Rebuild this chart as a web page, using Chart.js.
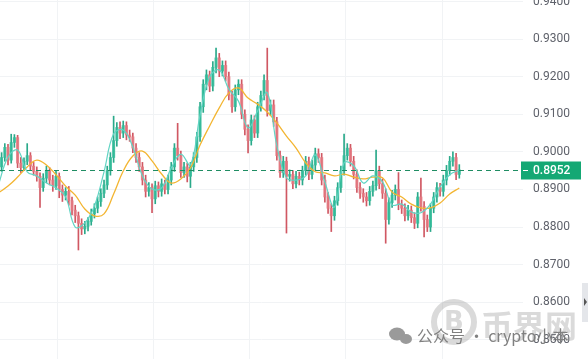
<!DOCTYPE html>
<html>
<head>
<meta charset="utf-8">
<script src="https://cdn.jsdelivr.net/npm/chart.js@4.4.1/dist/chart.umd.min.js"></script>
<style>
  html, body { margin: 0; padding: 0; background: #fff; }
  #wrap { position: relative; width: 588px; height: 359px; }
</style>
</head>
<body>
<div id="wrap"><canvas id="chart"></canvas></div>
<script>
// candles, one entry per bar
const opens = [
  0.8960, 0.8985, 0.9012, 0.8978, 0.9025, 0.9038, 0.8970, 0.8958, 0.8975, 0.8990,
  0.8962, 0.8948, 0.8935, 0.8905, 0.8930, 0.8950, 0.8925, 0.8910, 0.8935, 0.8900,
  0.8885, 0.8895, 0.8870, 0.8845, 0.8830, 0.8810, 0.8795, 0.8802, 0.8815, 0.8835,
  0.8850, 0.8868, 0.8890, 0.8912, 0.8950, 0.8985, 0.9030, 0.9065, 0.9050, 0.9070,
  0.9045, 0.9040, 0.9010, 0.8985, 0.8960, 0.8925, 0.8895, 0.8905, 0.8875, 0.8910,
  0.8895, 0.8915, 0.8900, 0.8925, 0.8960, 0.9010, 0.8990, 0.8945, 0.8960, 0.8935,
  0.8960, 0.8985, 0.9040, 0.9120, 0.9180, 0.9205, 0.9175, 0.9225, 0.9250, 0.9215,
  0.9230, 0.9200, 0.9150, 0.9120, 0.9165, 0.9180, 0.9100, 0.9060, 0.9030, 0.9085,
  0.9050, 0.9120, 0.9150, 0.9190, 0.9110, 0.9125, 0.9080, 0.8990, 0.8945, 0.8975,
  0.8935, 0.8940, 0.8915, 0.8935, 0.8925, 0.8950, 0.8975, 0.8940, 0.8965, 0.8995,
  0.8985, 0.8925, 0.8880, 0.8850, 0.8830, 0.8870, 0.8905, 0.8950, 0.8990, 0.9010,
  0.8975, 0.8940, 0.8905, 0.8890, 0.8880, 0.8870, 0.8895, 0.8910, 0.8950, 0.8915,
  0.8890, 0.8820, 0.8865, 0.8885, 0.8900, 0.8860, 0.8850, 0.8830, 0.8845, 0.8825,
  0.8810, 0.8880, 0.8855, 0.8820, 0.8800, 0.8850, 0.8880, 0.8905, 0.8895, 0.8925,
  0.8950, 0.8975, 0.8985, 0.8940
];
const highs = [
  0.8998, 0.9022, 0.9020, 0.9047, 0.9046, 0.9044, 0.8985, 0.8984, 0.9022, 0.8998,
  0.8972, 0.8960, 0.8944, 0.8942, 0.8962, 0.8958, 0.8938, 0.8948, 0.8944, 0.8912,
  0.8905, 0.8908, 0.8880, 0.8858, 0.8840, 0.8822, 0.8815, 0.8825, 0.8848, 0.8862,
  0.8880, 0.8902, 0.8925, 0.8962, 0.8998, 0.9095, 0.9078, 0.9080, 0.9082, 0.9080,
  0.9058, 0.9050, 0.9022, 0.8998, 0.8972, 0.8938, 0.8918, 0.8915, 0.8922, 0.8920,
  0.8928, 0.8925, 0.8938, 0.8972, 0.9022, 0.9076, 0.9002, 0.8972, 0.8970, 0.8972,
  0.8998, 0.9052, 0.9132, 0.9192, 0.9218, 0.9215, 0.9240, 0.9276, 0.9262, 0.9242,
  0.9242, 0.9212, 0.9162, 0.9178, 0.9192, 0.9192, 0.9112, 0.9072, 0.9098, 0.9096,
  0.9132, 0.9162, 0.9205, 0.9276, 0.9138, 0.9138, 0.9092, 0.9002, 0.8988, 0.8986,
  0.8952, 0.8950, 0.8948, 0.8946, 0.8962, 0.8988, 0.8986, 0.8978, 0.9010, 0.9008,
  0.8996, 0.8938, 0.8892, 0.8862, 0.8882, 0.8918, 0.8962, 0.9047, 0.9022, 0.9020,
  0.8988, 0.8952, 0.8918, 0.8902, 0.8892, 0.8908, 0.8922, 0.9005, 0.8962, 0.8928,
  0.8902, 0.8878, 0.8898, 0.8912, 0.8945, 0.8872, 0.8862, 0.8858, 0.8856, 0.8838,
  0.8892, 0.8930, 0.8868, 0.8832, 0.8862, 0.8892, 0.8918, 0.8916, 0.8938, 0.8964,
  0.8988, 0.9000, 0.8996, 0.8966
];
const lows = [
  0.8948, 0.8975, 0.8965, 0.8970, 0.9012, 0.8958, 0.8945, 0.8950, 0.8966, 0.8950,
  0.8938, 0.8922, 0.8852, 0.8895, 0.8918, 0.8912, 0.8895, 0.8900, 0.8878, 0.8868,
  0.8872, 0.8858, 0.8832, 0.8812, 0.8739, 0.8780, 0.8782, 0.8790, 0.8805, 0.8824,
  0.8838, 0.8855, 0.8878, 0.8900, 0.8938, 0.8972, 0.9015, 0.9035, 0.9038, 0.9032,
  0.9028, 0.8998, 0.8972, 0.8948, 0.8912, 0.8880, 0.8882, 0.8838, 0.8862, 0.8880,
  0.8882, 0.8888, 0.8888, 0.8912, 0.8948, 0.8978, 0.8932, 0.8932, 0.8920, 0.8905,
  0.8948, 0.8972, 0.9028, 0.9105, 0.9165, 0.9160, 0.9162, 0.9210, 0.9200, 0.9202,
  0.9188, 0.9138, 0.9105, 0.9108, 0.9152, 0.9088, 0.9045, 0.8997, 0.9018, 0.9038,
  0.9038, 0.9108, 0.9138, 0.9095, 0.9098, 0.9068, 0.8978, 0.8932, 0.8932, 0.8784,
  0.8922, 0.8902, 0.8904, 0.8912, 0.8912, 0.8938, 0.8926, 0.8928, 0.8952, 0.8972,
  0.8912, 0.8866, 0.8836, 0.8788, 0.8818, 0.8858, 0.8892, 0.8938, 0.8978, 0.8962,
  0.8928, 0.8892, 0.8876, 0.8866, 0.8856, 0.8858, 0.8882, 0.8898, 0.8902, 0.8876,
  0.8757, 0.8808, 0.8852, 0.8872, 0.8846, 0.8836, 0.8816, 0.8818, 0.8812, 0.8796,
  0.8798, 0.8842, 0.8774, 0.8788, 0.8788, 0.8838, 0.8866, 0.8882, 0.8882, 0.8912,
  0.8938, 0.8962, 0.8926, 0.8930
];
const closes = [
  0.8985, 0.9012, 0.8978, 0.9025, 0.9038, 0.8970, 0.8958, 0.8975, 0.8990, 0.8962,
  0.8948, 0.8935, 0.8905, 0.8930, 0.8950, 0.8925, 0.8910, 0.8935, 0.8900, 0.8885,
  0.8895, 0.8870, 0.8845, 0.8830, 0.8810, 0.8795, 0.8802, 0.8815, 0.8835, 0.8850,
  0.8868, 0.8890, 0.8912, 0.8950, 0.8985, 0.9030, 0.9065, 0.9050, 0.9070, 0.9045,
  0.9040, 0.9010, 0.8985, 0.8960, 0.8925, 0.8895, 0.8905, 0.8875, 0.8910, 0.8895,
  0.8915, 0.8900, 0.8925, 0.8960, 0.9010, 0.8990, 0.8945, 0.8960, 0.8935, 0.8960,
  0.8985, 0.9040, 0.9120, 0.9180, 0.9205, 0.9175, 0.9225, 0.9250, 0.9215, 0.9230,
  0.9200, 0.9150, 0.9120, 0.9165, 0.9180, 0.9100, 0.9060, 0.9030, 0.9085, 0.9050,
  0.9120, 0.9150, 0.9190, 0.9110, 0.9125, 0.9080, 0.8990, 0.8945, 0.8975, 0.8935,
  0.8940, 0.8915, 0.8935, 0.8925, 0.8950, 0.8975, 0.8940, 0.8965, 0.8995, 0.8985,
  0.8925, 0.8880, 0.8850, 0.8830, 0.8870, 0.8905, 0.8950, 0.8990, 0.9010, 0.8975,
  0.8940, 0.8905, 0.8890, 0.8880, 0.8870, 0.8895, 0.8910, 0.8950, 0.8915, 0.8890,
  0.8820, 0.8865, 0.8885, 0.8900, 0.8860, 0.8850, 0.8830, 0.8845, 0.8825, 0.8810,
  0.8880, 0.8855, 0.8820, 0.8800, 0.8850, 0.8880, 0.8905, 0.8895, 0.8925, 0.8950,
  0.8975, 0.8985, 0.8940, 0.8952
];

// the two moving averages, read every 3rd candle starting one slot before the first
const fastMa = [
  0.8912, 0.8986, 0.9005, 0.8947, 0.8936, 0.8917, 0.8904, 0.8880, 0.8800, 0.8811,
  0.8856, 0.8947, 0.9048, 0.9058, 0.9013, 0.8936, 0.8901, 0.8904, 0.8957, 0.8994,
  0.8965, 0.9098, 0.9199, 0.9218, 0.9167, 0.9135, 0.9064, 0.9109, 0.9157, 0.9016,
  0.8931, 0.8925, 0.8936, 0.8992, 0.8920, 0.8853, 0.8971, 0.8963, 0.8917, 0.8936,
  0.8920, 0.8859, 0.8861, 0.8840, 0.8838, 0.8861, 0.8907, 0.8939, 0.8952
];
const slowMa = [
  0.8891, 0.8909, 0.8933, 0.8960, 0.8978, 0.8965, 0.8939, 0.8909, 0.8885, 0.8848,
  0.8830, 0.8835, 0.8888, 0.8949, 0.8989, 0.9002, 0.8976, 0.8941, 0.8917, 0.8928,
  0.8957, 0.9018, 0.9069, 0.9117, 0.9157, 0.9170, 0.9143, 0.9127, 0.9106, 0.9077,
  0.9042, 0.9010, 0.8971, 0.8947, 0.8944, 0.8936, 0.8941, 0.8933, 0.8928, 0.8933,
  0.8931, 0.8893, 0.8880, 0.8861, 0.8851, 0.8851, 0.8864, 0.8888, 0.8904
];
const maStep = 3;
const maStart = -1;

const priceTicks = [0.85, 0.86, 0.87, 0.88, 0.89, 0.90, 0.91, 0.92, 0.93, 0.94];
const lastPrice = 0.8952;

const UP = 'rgba(52,188,154,0.85)';
const DOWN = 'rgba(228,120,128,0.85)';
const UP_WICK = '#2aa98a';
const DOWN_WICK = '#d05863';

const isUp = opens.map((o, i) => closes[i] >= o);
const wickData = highs.map((h, i) => ({ x: i, y: [lows[i], h] }));
const bodyData = opens.map((o, i) => ({ x: i, y: [o, closes[i]] }));
const maPoints = arr => arr.map((v, k) => ({ x: maStart + k * maStep, y: v }));

// dashed last-price line, the green price tag and the page decorations
const overlay = {
  id: 'overlay',
  afterDatasetsDraw(chart) {
    const { ctx, chartArea, scales } = chart;
    const py = Math.round(scales.y.getPixelForValue(lastPrice)) + 0.5;
    ctx.save();
    ctx.strokeStyle = '#1f8d63';
    ctx.lineWidth = 1;
    ctx.setLineDash([5, 4]);
    ctx.beginPath();
    ctx.moveTo(chartArea.left, py);
    ctx.lineTo(chartArea.right, py);
    ctx.stroke();
    ctx.setLineDash([]);

    ctx.fillStyle = '#14a874';
    ctx.fillRect(chartArea.right - 2, py - 9, 60, 18);
    ctx.strokeStyle = '#ffffff';
    ctx.beginPath();
    ctx.moveTo(chartArea.right, py);
    ctx.lineTo(chartArea.right + 5, py);
    ctx.stroke();
    ctx.fillStyle = '#ffffff';
    ctx.font = '500 12px Roboto';
    ctx.textBaseline = 'middle';
    ctx.fillText(lastPrice.toFixed(4), chartArea.right + 10, py + 0.5);
    ctx.restore();
  },
  afterDraw(chart) {
    const { ctx } = chart;
    ctx.save();
    // scroll handle on the right edge
    ctx.fillStyle = '#e4e6ea';
    ctx.fillRect(582, 283, 6, 39);
    ctx.fillStyle = '#555';
    ctx.beginPath();
    ctx.moveTo(584, 298);
    ctx.lineTo(587, 302);
    ctx.lineTo(584, 306);
    ctx.closePath();
    ctx.fill();

    // watermark
    ctx.strokeStyle = 'rgba(150,150,150,0.35)';
    ctx.lineWidth = 6;
    ctx.beginPath();
    ctx.arc(454, 322, 20, 0, Math.PI * 2);
    ctx.stroke();
    ctx.fillStyle = 'rgba(150,150,150,0.35)';
    ctx.font = 'bold 26px "DejaVu Sans"';
    ctx.textAlign = 'center';
    ctx.textBaseline = 'middle';
    ctx.fillText('B', 454, 323);
    ctx.textAlign = 'left';
    ctx.textBaseline = 'alphabetic';
    ctx.font = 'bold 32px "Noto Sans CJK SC"';
    ctx.fillText('币界网', 481, 338);

    ctx.fillStyle = '#9a9a9a';
    ctx.beginPath();
    ctx.ellipse(397, 334, 8, 6.5, 0, 0, Math.PI * 2);
    ctx.fill();
    ctx.beginPath();
    ctx.ellipse(406, 339, 6, 5, 0, 0, Math.PI * 2);
    ctx.fill();
    ctx.fillStyle = '#808080';
    ctx.font = '16px "Noto Sans CJK SC"';
    ctx.fillText('公众号 · crypto小本', 417, 342);
    ctx.restore();
  }
};

new Chart(document.getElementById('chart'), {
  type: 'bar',
  data: {
    datasets: [
      {
        type: 'line',
        data: maPoints(fastMa),
        borderColor: '#62d4c4',
        borderWidth: 1.2,
        pointRadius: 0,
        tension: 0.4,
        order: 0,
      },
      {
        type: 'line',
        data: maPoints(slowMa),
        borderColor: '#f3b531',
        borderWidth: 1.3,
        pointRadius: 0,
        tension: 0.4,
        order: 0,
      },
      {
        data: bodyData,
        backgroundColor: isUp.map(u => (u ? UP : DOWN)),
        barThickness: 2.4,
        minBarLength: 1,
        grouped: false,
        order: 1,
      },
      {
        data: wickData,
        backgroundColor: isUp.map(u => (u ? UP_WICK : DOWN_WICK)),
        barThickness: 1,
        grouped: false,
        order: 2,
      },
    ],
  },
  options: {
    responsive: true,
    maintainAspectRatio: false,
    animation: false,
    layout: { padding: 0 },
    plugins: { legend: { display: false }, tooltip: { enabled: false } },
    scales: {
      x: {
        type: 'linear',
        offset: false,
        min: -0.5,
        max: 162.9,
        border: { display: false },
        grid: { color: '#f1f3f5', drawTicks: false },
        ticks: { display: false },
        afterBuildTicks: scale => {
          scale.ticks = [2.6, 32.6, 62.6, 92.6, 122.6, 152.6].map(v => ({ value: v }));
        },
        afterFit: scale => {
          scale.height = 0;
          scale.paddingLeft = 0;
          scale.paddingRight = 0;
        },
      },
      y: {
        position: 'right',
        min: 0.8449,
        max: 0.9404,
        border: { display: false },
        grid: { color: '#f1f3f5', drawTicks: false },
        afterBuildTicks: scale => {
          scale.ticks = priceTicks.map(v => ({ value: v }));
        },
        afterFit: scale => {
          scale.width = 65;
          scale.paddingTop = 0;
          scale.paddingBottom = 0;
        },
        ticks: {
          padding: 10,
          color: '#5f626b',
          font: { family: 'Roboto', size: 12 },
          callback: v => v.toFixed(4),
        },
      },
    },
  },
  plugins: [overlay],
});
</script>
</body>
</html>
